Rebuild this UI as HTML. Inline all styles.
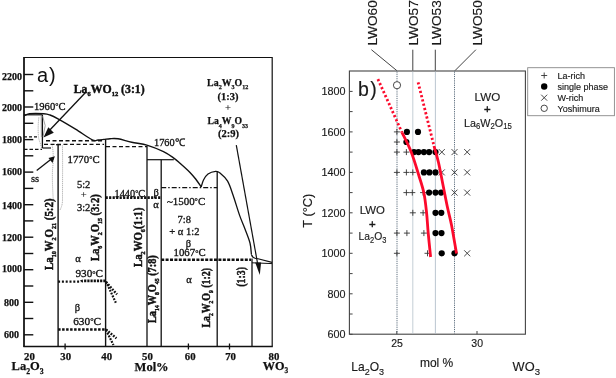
<!DOCTYPE html>
<html><head><meta charset="utf-8"><title>Phase diagram</title>
<style>html,body{margin:0;padding:0;background:#fff;}svg{display:block;}</style>
</head><body>
<svg width="616" height="378" viewBox="0 0 616 378">
<rect width="616" height="378" fill="#fff"/>
<g stroke="#111" fill="none" stroke-linecap="butt">
<path d="M24,346.5V57.5H272.2V346.5" stroke-width="1.2"/>
<line x1="23.4" y1="346.5" x2="272.8" y2="346.5" stroke-width="1.4"/>
<line x1="24" y1="57" x2="24" y2="347" stroke-width="1.4"/>
<line x1="24" y1="334.8" x2="33.3" y2="334.8" stroke-width="1.4"/>
<line x1="24" y1="318.5" x2="33.3" y2="318.5" stroke-width="1.4"/>
<line x1="24" y1="302.3" x2="33.3" y2="302.3" stroke-width="1.4"/>
<line x1="24" y1="286.0" x2="33.3" y2="286.0" stroke-width="1.4"/>
<line x1="24" y1="269.7" x2="33.3" y2="269.7" stroke-width="1.4"/>
<line x1="24" y1="253.5" x2="33.3" y2="253.5" stroke-width="1.4"/>
<line x1="24" y1="237.2" x2="33.3" y2="237.2" stroke-width="1.4"/>
<line x1="24" y1="220.9" x2="33.3" y2="220.9" stroke-width="1.4"/>
<line x1="24" y1="204.7" x2="33.3" y2="204.7" stroke-width="1.4"/>
<line x1="24" y1="188.4" x2="33.3" y2="188.4" stroke-width="1.4"/>
<line x1="24" y1="172.1" x2="33.3" y2="172.1" stroke-width="1.4"/>
<line x1="24" y1="155.8" x2="33.3" y2="155.8" stroke-width="1.4"/>
<line x1="24" y1="139.6" x2="33.3" y2="139.6" stroke-width="1.4"/>
<line x1="24" y1="123.3" x2="33.3" y2="123.3" stroke-width="1.4"/>
<line x1="24" y1="107.0" x2="33.3" y2="107.0" stroke-width="1.4"/>
<line x1="24" y1="90.8" x2="33.3" y2="90.8" stroke-width="1.4"/>
<line x1="24" y1="74.5" x2="33.3" y2="74.5" stroke-width="1.4"/>
<line x1="65.1" y1="343.5" x2="65.1" y2="349.5" stroke-width="1.3"/>
<line x1="188.4" y1="343.5" x2="188.4" y2="349.5" stroke-width="1.3"/>
<line x1="229.5" y1="343.5" x2="229.5" y2="349.5" stroke-width="1.3"/>
<line x1="42.4" y1="114.8" x2="42.4" y2="148" stroke-width="1.3"/>
<line x1="58.1" y1="144.7" x2="58.1" y2="346.5" stroke-width="1.4"/>
<line x1="105.6" y1="139" x2="105.6" y2="346.5" stroke-width="1.4"/>
<line x1="147" y1="146" x2="147" y2="346.5" stroke-width="1.3"/>
<line x1="161.2" y1="159.7" x2="161.2" y2="346.5" stroke-width="1.3"/>
<line x1="217.2" y1="171" x2="217.2" y2="346.5" stroke-width="1.3"/>
<line x1="252" y1="258.5" x2="252" y2="346.5" stroke-width="1.3"/>
<line x1="24" y1="114.8" x2="42.4" y2="114.8" stroke-width="1.2"/>
<line x1="42.4" y1="148" x2="51" y2="148" stroke-width="1.2"/>
<line x1="147" y1="159.7" x2="173.8" y2="159.7" stroke-width="1.2"/>
<line x1="56" y1="144.7" x2="61" y2="144.7" stroke-width="1.2"/>
<line x1="24" y1="136.8" x2="39" y2="136.8" stroke-width="1.2" stroke-dasharray="3 2"/>
<line x1="46" y1="140.8" x2="104" y2="140.8" stroke-width="1.6" stroke-dasharray="4 2.5"/>
<line x1="44" y1="144.3" x2="104" y2="144.3" stroke-width="1.3" stroke-dasharray="4 2.5"/>
<line x1="24" y1="149.4" x2="42" y2="149.4" stroke-width="1.3" stroke-dasharray="3.5 2"/>
<line x1="106" y1="146.7" x2="147" y2="146.7" stroke-width="1.3" stroke-dasharray="4 2.5"/>
<line x1="105.6" y1="197.6" x2="161.5" y2="197.6" stroke-width="2.6" stroke-dasharray="2.2 1.3"/>
<line x1="161.2" y1="259.7" x2="251" y2="259.7" stroke-width="2.5" stroke-dasharray="3 1.4"/>
<line x1="58.1" y1="281.6" x2="81" y2="281.6" stroke-width="2.2" stroke-dasharray="2 1.8"/>
<path d="M81,281.6 Q82,280.6 84,280.8 L106,280.8" stroke-width="2.8" stroke-dasharray="2.2 1"/>
<line x1="58.1" y1="329.5" x2="105.6" y2="329.5" stroke-width="2.6" stroke-dasharray="2.5 1.5"/>
<line x1="106" y1="281.5" x2="116.4" y2="304" stroke-width="2.2" stroke-dasharray="1.8 1.3"/>
<line x1="106" y1="282" x2="117" y2="294.4" stroke-width="2.4" stroke-dasharray="1.8 1.3"/>
<line x1="106" y1="329.5" x2="116.4" y2="338.3" stroke-width="2.4" stroke-dasharray="1.8 1.3"/>
<line x1="106" y1="330" x2="113.5" y2="345.1" stroke-width="2.2" stroke-dasharray="1.8 1.3"/>
<line x1="161.2" y1="187.6" x2="217.2" y2="187.6" stroke-width="1.2" stroke-dasharray="5 2 1.5 2"/>
<path d="M24,116 C24.92,115.62 26.20,114.08 29.50,113.70 C32.80,113.32 40.38,113.48 43.80,113.70 C47.22,113.92 47.63,114.15 50.00,115.00 C52.37,115.85 53.75,116.45 58.00,118.80 C62.25,121.15 69.80,125.60 75.50,129.10 C81.20,132.60 88.45,137.98 92.20,139.80 C95.95,141.62 96.03,140.07 98.00,140.00 C99.97,139.93 102.00,139.62 104.00,139.40 C106.00,139.18 107.67,138.80 110.00,138.70 C112.33,138.60 114.38,138.22 118.00,138.80 C121.62,139.38 126.77,141.10 131.70,142.20 C136.63,143.30 142.30,143.82 147.60,145.40 C152.90,146.98 159.13,149.58 163.50,151.70 C167.87,153.82 171.05,156.18 173.80,158.10 C176.55,160.02 177.30,160.82 180.00,163.20 C182.70,165.58 187.33,169.68 190.00,172.40 C192.67,175.12 194.13,177.07 196.00,179.50 C197.87,181.93 200.33,185.75 201.20,187.00" stroke-width="1.4"/>
<path d="M201.2,187 C201.58,185.83 202.37,182.17 203.50,180.00 C204.63,177.83 205.98,175.43 208.00,174.00 C210.02,172.57 213.60,171.57 215.60,171.40 C217.60,171.23 218.00,171.37 220.00,173.00 C222.00,174.63 225.43,177.53 227.60,181.20 C229.77,184.87 230.98,189.27 233.00,195.00 C235.02,200.73 237.70,209.93 239.70,215.60 C241.70,221.27 243.28,224.43 245.00,229.00 C246.72,233.57 248.93,238.75 250.00,243.00 C251.07,247.25 251.17,252.58 251.40,254.50" stroke-width="1.3"/>
<path d="M251.4,254.5 Q252.5,258.5 258,258.8 L272,262.4" stroke-width="1.1"/>
<path d="M252,262.8 L272,263.6" stroke-width="1.0"/>
<path d="M38.8,117.5 C38,125 38,132 38.5,137 C39,141 41,144 41.5,148" stroke="#8a8a8a" stroke-width="0.8" stroke-dasharray="1 1"/>
<path d="M41.2,116 L41.4,137" stroke="#8a8a8a" stroke-width="0.8"/>
<path d="M42.6,116 L45.2,125.6 L43,137" stroke="#8a8a8a" stroke-width="0.8"/>
<path d="M52.2,145.5 C53.5,152 53.5,160 52.5,170 C52,180 53,195 53.5,205" stroke="#8a8a8a" stroke-width="0.8" stroke-dasharray="1 1"/>
<path d="M62.4,145.5 C62.8,160 62.5,180 62.5,200 C62.5,205 61,208 60,210" stroke="#8a8a8a" stroke-width="0.8" stroke-dasharray="1 1"/>
<line x1="86" y1="92" x2="47" y2="133" stroke-width="1.3"/>
<line x1="36.7" y1="170.5" x2="52" y2="158.5" stroke-width="1.3"/>
<line x1="236.3" y1="145.2" x2="257.5" y2="263" stroke-width="1.2"/>
</g>
<g fill="#111" stroke="none">
<polygon points="43.5,137.5 48.3,127.2 53.8,132.8"/>
<polygon points="54.9,156.2 48.5,158 52.5,163"/>
<polygon points="259.8,275 255.2,262.5 261.1,262.5"/>
</g>
<g font-family="'Liberation Serif', 'Times New Roman', serif" font-weight="bold" fill="#111" stroke="#111" stroke-width="0.25">
<text x="22" y="79.6" font-size="10" text-anchor="end">2200</text>
<text x="22" y="111.4" font-size="10" text-anchor="end">2000</text>
<text x="22" y="143.2" font-size="10" text-anchor="end">1800</text>
<text x="22" y="175.2" font-size="10" text-anchor="end">1600</text>
<text x="22" y="208.9" font-size="10" text-anchor="end">1400</text>
<text x="22" y="241.3" font-size="10" text-anchor="end">1200</text>
<text x="22" y="271.9" font-size="10" text-anchor="end">1000</text>
<text x="19" y="305.6" font-size="10" text-anchor="end">800</text>
<text x="19" y="337.7" font-size="10" text-anchor="end">600</text>
<text x="29.5" y="359.5" font-size="10.8" text-anchor="middle">20</text>
<text x="65.7" y="359.5" font-size="10.8" text-anchor="middle">30</text>
<text x="106.7" y="359.5" font-size="10.8" text-anchor="middle">40</text>
<text x="147.5" y="359.5" font-size="10.8" text-anchor="middle">50</text>
<text x="190.2" y="359.5" font-size="10.8" text-anchor="middle">60</text>
<text x="230.6" y="359.5" font-size="10.8" text-anchor="middle">70</text>
<text x="274" y="359.5" font-size="10.8" text-anchor="middle">80</text>
<text x="11.6" y="370.3" font-size="12.5"><tspan>La</tspan><tspan dy="3.75" font-size="7.75">2</tspan><tspan dy="-3.75">O</tspan><tspan dy="3.75" font-size="7.75">3</tspan></text>
<text x="134.6" y="371" font-size="12.5">Mol%</text>
<text x="262.7" y="370" font-size="12.5" textLength="25.5" lengthAdjust="spacingAndGlyphs"><tspan>WO</tspan><tspan dy="2.60" font-size="7.50">3</tspan></text>
<text x="73.7" y="92.8" font-size="12.8" stroke-width="0.45" textLength="71" lengthAdjust="spacingAndGlyphs"><tspan>La</tspan><tspan dy="2.80" font-size="7.04">6</tspan><tspan dy="-2.80">WO</tspan><tspan dy="2.80" font-size="7.04">12</tspan><tspan dy="-2.80"> (3:1)</tspan></text>
<text font-weight="normal" stroke-width="0.3" x="34" y="109.8" font-size="10.5" textLength="31.5" lengthAdjust="spacingAndGlyphs">1960<tspan font-size="75%" dy="-0.5">°</tspan><tspan dy="0.5">C</tspan></text>
<text x="207.1" y="86.3" font-size="10.5" textLength="41.3" lengthAdjust="spacingAndGlyphs"><tspan>La</tspan><tspan dy="3.15" font-size="6.51">2</tspan><tspan dy="-3.15">W</tspan><tspan dy="3.15" font-size="6.51">3</tspan><tspan dy="-3.15">O</tspan><tspan dy="3.15" font-size="6.51">12</tspan></text>
<text x="228" y="99.5" font-size="10.5" text-anchor="middle">(1:3)</text>
<text font-weight="normal" stroke-width="0.15" x="228" y="111" font-size="10.5" text-anchor="middle">+</text>
<text x="207.4" y="124.4" font-size="10.5" textLength="40.7" lengthAdjust="spacingAndGlyphs"><tspan>La</tspan><tspan dy="3.15" font-size="6.51">4</tspan><tspan dy="-3.15">W</tspan><tspan dy="3.15" font-size="6.51">9</tspan><tspan dy="-3.15">O</tspan><tspan dy="3.15" font-size="6.51">33</tspan></text>
<text x="228.5" y="136.8" font-size="10.5" text-anchor="middle">(2:9)</text>
<text font-weight="normal" stroke-width="0.3" x="67.6" y="162.6" font-size="10.5" textLength="32" lengthAdjust="spacingAndGlyphs">1770<tspan font-size="75%" dy="-0.5">°</tspan><tspan dy="0.5">C</tspan></text>
<text font-weight="normal" stroke-width="0.3" x="154" y="146.3" font-size="10.5" textLength="30.5" lengthAdjust="spacingAndGlyphs">1760℃</text>
<text font-weight="normal" stroke-width="0.3" x="31" y="181.8" font-size="10.5">ss</text>
<text font-weight="normal" stroke-width="0.3" x="83.6" y="187.5" font-size="10.5" text-anchor="middle">5:2</text>
<text font-weight="normal" stroke-width="0.15" x="83.6" y="198.3" font-size="10.5" text-anchor="middle">+</text>
<text font-weight="normal" stroke-width="0.3" x="83.6" y="211" font-size="10.5" text-anchor="middle">3:2</text>
<text font-weight="normal" stroke-width="0.3" x="114.6" y="196.8" font-size="10.5" textLength="30.5" lengthAdjust="spacingAndGlyphs">1440<tspan font-size="75%" dy="-0.5">°</tspan><tspan dy="0.5">C</tspan></text>
<text font-weight="normal" stroke-width="0.3" x="156.1" y="196" font-size="10.5" text-anchor="middle">β</text>
<text font-weight="normal" stroke-width="0.3" x="156.1" y="208" font-size="10.5" text-anchor="middle">α</text>
<text font-weight="normal" stroke-width="0.3" x="166.9" y="204.6" font-size="10.5" textLength="38.3" lengthAdjust="spacingAndGlyphs">~1500<tspan font-size="75%" dy="-0.5">°</tspan><tspan dy="0.5">C</tspan></text>
<text font-weight="normal" stroke-width="0.3" x="184.2" y="222.5" font-size="10.5" text-anchor="middle">7:8</text>
<text font-weight="normal" stroke-width="0.3" x="169.3" y="235.3" font-size="10.5">+ α 1:2</text>
<text font-weight="normal" stroke-width="0.3" x="188.3" y="246.7" font-size="10.5" text-anchor="middle">β</text>
<text font-weight="normal" stroke-width="0.3" x="173.6" y="256.4" font-size="10.5" textLength="32" lengthAdjust="spacingAndGlyphs">1067<tspan font-size="75%" dy="-0.5">°</tspan><tspan dy="0.5">C</tspan></text>
<text font-weight="normal" stroke-width="0.3" x="77.9" y="261.5" font-size="10.5" text-anchor="middle">α</text>
<text font-weight="normal" stroke-width="0.3" x="75.5" y="277.3" font-size="10.5" textLength="27.6" lengthAdjust="spacingAndGlyphs">930<tspan font-size="75%" dy="-0.5">°</tspan><tspan dy="0.5">C</tspan></text>
<text font-weight="normal" stroke-width="0.3" x="77.5" y="311" font-size="10.5" text-anchor="middle">β</text>
<text font-weight="normal" stroke-width="0.3" x="73.2" y="324.7" font-size="10.5" textLength="28" lengthAdjust="spacingAndGlyphs">630<tspan font-size="75%" dy="-0.5">°</tspan><tspan dy="0.5">C</tspan></text>
<text font-weight="normal" stroke-width="0.3" x="188.9" y="283" font-size="10.5" text-anchor="middle">α</text>
<text transform="translate(53.4,270) rotate(-90)" font-size="12" stroke-width="0.45" textLength="71.5" lengthAdjust="spacingAndGlyphs"><tspan>La</tspan><tspan dy="2.30" font-size="6.72">10</tspan><tspan dy="-2.30">W</tspan><tspan dy="2.30" font-size="6.72">2</tspan><tspan dy="-2.30">O</tspan><tspan dy="2.30" font-size="6.72">21</tspan><tspan dy="-2.30"> (5:2)</tspan></text>
<text transform="translate(99.2,261) rotate(-90)" font-size="12" stroke-width="0.45" textLength="66.7" lengthAdjust="spacingAndGlyphs"><tspan>La</tspan><tspan dy="2.30" font-size="6.72">6</tspan><tspan dy="-2.30">W</tspan><tspan dy="2.30" font-size="6.72">2</tspan><tspan dy="-2.30">O</tspan><tspan dy="2.30" font-size="6.72">15</tspan><tspan dy="-2.30"> (3:2)</tspan></text>
<text transform="translate(142.2,267) rotate(-90)" font-size="12" stroke-width="0.45" textLength="59.5" lengthAdjust="spacingAndGlyphs"><tspan>La</tspan><tspan dy="2.30" font-size="6.72">2</tspan><tspan dy="-2.30">WO</tspan><tspan dy="2.30" font-size="6.72">6</tspan><tspan dy="-2.30">(1:1)</tspan></text>
<text transform="translate(156.2,323) rotate(-90)" font-size="12" stroke-width="0.45" textLength="67.7" lengthAdjust="spacingAndGlyphs"><tspan>La</tspan><tspan dy="2.30" font-size="6.72">14</tspan><tspan dy="-2.30">W</tspan><tspan dy="2.30" font-size="6.72">8</tspan><tspan dy="-2.30">O</tspan><tspan dy="2.30" font-size="6.72">45</tspan><tspan dy="-2.30"> (7:8)</tspan></text>
<text transform="translate(210.3,327.6) rotate(-90)" font-size="12" stroke-width="0.45" textLength="59.6" lengthAdjust="spacingAndGlyphs"><tspan>La</tspan><tspan dy="2.30" font-size="6.72">2</tspan><tspan dy="-2.30">W</tspan><tspan dy="2.30" font-size="6.72">2</tspan><tspan dy="-2.30">O</tspan><tspan dy="2.30" font-size="6.72">9</tspan><tspan dy="-2.30"> (1:2)</tspan></text>
<text transform="translate(245.3,286.8) rotate(-90)" font-size="12" stroke-width="0.45" textLength="19.8" lengthAdjust="spacingAndGlyphs"><tspan>(1:3)</tspan></text>
</g>
<text x="36.9" y="82.3" font-family="'Liberation Sans', Arial, sans-serif" font-size="20" fill="#111" letter-spacing="0.9">a)</text>
<g stroke="#444" fill="none">
<rect x="349.4" y="71" width="176" height="263.2" stroke-width="1.1"/>
<line x1="349.4" y1="334.3" x2="352.6" y2="334.3" stroke-width="1"/>
<line x1="349.4" y1="314.0" x2="352.6" y2="314.0" stroke-width="1"/>
<line x1="349.4" y1="293.8" x2="352.6" y2="293.8" stroke-width="1"/>
<line x1="349.4" y1="273.6" x2="352.6" y2="273.6" stroke-width="1"/>
<line x1="349.4" y1="253.3" x2="352.6" y2="253.3" stroke-width="1"/>
<line x1="349.4" y1="233.1" x2="352.6" y2="233.1" stroke-width="1"/>
<line x1="349.4" y1="212.8" x2="352.6" y2="212.8" stroke-width="1"/>
<line x1="349.4" y1="192.6" x2="352.6" y2="192.6" stroke-width="1"/>
<line x1="349.4" y1="172.4" x2="352.6" y2="172.4" stroke-width="1"/>
<line x1="349.4" y1="152.1" x2="352.6" y2="152.1" stroke-width="1"/>
<line x1="349.4" y1="131.9" x2="352.6" y2="131.9" stroke-width="1"/>
<line x1="349.4" y1="111.6" x2="352.6" y2="111.6" stroke-width="1"/>
<line x1="349.4" y1="91.4" x2="352.6" y2="91.4" stroke-width="1"/>
<line x1="396.8" y1="334.2" x2="396.8" y2="331" stroke-width="1"/>
<line x1="477.0" y1="334.2" x2="477.0" y2="331" stroke-width="1"/>
<line x1="371.4" y1="49.7" x2="396.8" y2="70.6" stroke-width="1"/>
<line x1="412.8" y1="49.7" x2="412.8" y2="70.6" stroke-width="1"/>
<line x1="435.3" y1="49.7" x2="435.3" y2="70.6" stroke-width="1"/>
<line x1="475.9" y1="49.7" x2="455" y2="70.6" stroke-width="1"/>
</g>
<g fill="none" stroke-width="0.8">
<line x1="397" y1="71.5" x2="397" y2="333.7" stroke="#5d6e7e" stroke-width="1" stroke-dasharray="1.2 1"/>
<line x1="412.8" y1="71.5" x2="412.8" y2="333.7" stroke="#b5c2cc"/>
<line x1="435.4" y1="71.5" x2="435.4" y2="333.7" stroke="#a9b8c4"/>
<line x1="454.5" y1="71.5" x2="454.5" y2="333.7" stroke="#5d6e7e" stroke-width="1" stroke-dasharray="1.2 1"/>
</g>
<g stroke="#333" stroke-width="0.9">
<path d="M393.9,131.9h6M396.9,128.9v6"/>
<path d="M393.9,142.0h6M396.9,139.0v6"/>
<path d="M393.9,152.1h6M396.9,149.1v6"/>
<path d="M403.4,152.1h6M406.4,149.1v6"/>
<path d="M393.9,172.4h6M396.9,169.4v6"/>
<path d="M403.4,172.4h6M406.4,169.4v6"/>
<path d="M409.8,172.4h6M412.8,169.4v6"/>
<path d="M403.4,192.6h6M406.4,189.6v6"/>
<path d="M409.3,192.6h6M412.3,189.6v6"/>
<path d="M420.1,192.6h6M423.1,189.6v6"/>
<path d="M409.8,212.8h6M412.8,209.8v6"/>
<path d="M420.1,212.8h6M423.1,209.8v6"/>
<path d="M393.9,233.1h6M396.9,230.1v6"/>
<path d="M403.9,233.1h6M406.9,230.1v6"/>
<path d="M420.9,233.1h6M423.9,230.1v6"/>
<path d="M393.9,253.3h6M396.9,250.3v6"/>
<path d="M424.5,253.3h6M427.5,250.3v6"/>
<path d="M438.8,149.1l6,6M438.8,155.1l6,-6"/>
<path d="M451.5,149.1l6,6M451.5,155.1l6,-6"/>
<path d="M464.2,149.1l6,6M464.2,155.1l6,-6"/>
<path d="M438.8,169.4l6,6M438.8,175.4l6,-6"/>
<path d="M451.5,169.4l6,6M451.5,175.4l6,-6"/>
<path d="M464.2,169.4l6,6M464.2,175.4l6,-6"/>
<path d="M451.5,189.6l6,6M451.5,195.6l6,-6"/>
<path d="M464.2,189.6l6,6M464.2,195.6l6,-6"/>
<path d="M464.2,250.3l6,6M464.2,256.3l6,-6"/>
</g>
<g fill="#000">
<circle cx="406.9" cy="131.9" r="3.1"/>
<circle cx="418" cy="131.9" r="3.1"/>
<circle cx="406.4" cy="142.0" r="3.1"/>
<circle cx="414" cy="152.1" r="3.1"/>
<circle cx="418.5" cy="152.1" r="3.1"/>
<circle cx="423.9" cy="152.1" r="3.1"/>
<circle cx="429.1" cy="152.1" r="3.1"/>
<circle cx="435.5" cy="152.1" r="3.1"/>
<circle cx="423.9" cy="172.4" r="3.1"/>
<circle cx="429.4" cy="172.4" r="3.1"/>
<circle cx="435.5" cy="172.4" r="3.1"/>
<circle cx="429.1" cy="192.6" r="3.1"/>
<circle cx="435.5" cy="192.6" r="3.1"/>
<circle cx="441.1" cy="192.6" r="3.1"/>
<circle cx="435.5" cy="212.8" r="3.1"/>
<circle cx="441.3" cy="212.8" r="3.1"/>
<circle cx="435.5" cy="233.1" r="3.1"/>
<circle cx="441.5" cy="233.1" r="3.1"/>
<circle cx="441.7" cy="253.3" r="3.1"/>
<circle cx="454.5" cy="253.3" r="3.1"/>
</g>
<circle cx="397" cy="85.2" r="3.6" fill="#fff" stroke="#333" stroke-width="0.9"/>
<g fill="none" stroke="#fc0a2c" stroke-width="2.8">
<line x1="377.9" y1="79.1" x2="402" y2="132.5" stroke-dasharray="2.2 2.2"/>
<line x1="418.1" y1="82.3" x2="434" y2="146" stroke-dasharray="2.2 2.2"/>
<path d="M402,132.5 C403.53,135.75 408.42,144.92 411.20,152.00 C413.98,159.08 416.58,168.17 418.70,175.00 C420.82,181.83 422.58,186.67 423.90,193.00 C425.22,199.33 425.88,206.33 426.60,213.00 C427.32,219.67 427.53,225.67 428.20,233.00 C428.87,240.33 430.20,253.00 430.60,257.00"/>
<path d="M434,146 C434.75,148.75 437.00,156.00 438.50,162.50 C440.00,169.00 441.50,177.50 443.00,185.00 C444.50,192.50 446.08,200.83 447.50,207.50 C448.92,214.17 450.00,217.33 451.50,225.00 C453.00,232.67 455.67,248.75 456.50,253.50"/>
</g>
<g font-family="'Liberation Sans', Arial, sans-serif" fill="#1a1a1a" stroke="#1a1a1a" stroke-width="0.15">
<text x="345.5" y="338.1" font-size="10.8" text-anchor="end">600</text>
<text x="345.5" y="297.6" font-size="10.8" text-anchor="end">800</text>
<text x="345.5" y="257.1" font-size="10.8" text-anchor="end">1000</text>
<text x="345.5" y="216.6" font-size="10.8" text-anchor="end">1200</text>
<text x="345.5" y="176.2" font-size="10.8" text-anchor="end">1400</text>
<text x="345.5" y="135.7" font-size="10.8" text-anchor="end">1600</text>
<text x="345.5" y="95.2" font-size="10.8" text-anchor="end">1800</text>
<text x="397.1" y="347" font-size="10.5" text-anchor="middle">25</text>
<text x="477.2" y="347" font-size="10.5" text-anchor="middle">30</text>
<text x="351.3" y="370.8" font-size="12.8" textLength="32.8" lengthAdjust="spacingAndGlyphs"><tspan>La</tspan><tspan dy="3.84" font-size="9.60">2</tspan><tspan dy="-3.84">O</tspan><tspan dy="3.84" font-size="9.60">3</tspan></text>
<text x="419.9" y="366.8" font-size="12">mol %</text>
<text x="512.6" y="371.1" font-size="12.8"><tspan>WO</tspan><tspan dy="3.84" font-size="9.60">3</tspan></text>
<text transform="translate(312.4,227.7) rotate(-90)" font-size="12.8">T (°C)</text>
<text x="358" y="96" font-size="19.5" letter-spacing="1.4">b)</text>
<text transform="translate(376.8,45.6) rotate(-90)" font-size="13.7">LWO60</text>
<text transform="translate(417.8,45.6) rotate(-90)" font-size="13.7">LWO57</text>
<text transform="translate(441.1,45.6) rotate(-90)" font-size="13.7">LWO53</text>
<text transform="translate(482,45.6) rotate(-90)" font-size="13.7">LWO50</text>
<text x="372.4" y="214.4" font-size="11.4" text-anchor="middle">LWO</text>
<text x="372.3" y="227.5" font-size="11.4" text-anchor="middle" stroke-width="0.5">+</text>
<text x="358.6" y="240.4" font-size="11.4" textLength="27.8" lengthAdjust="spacingAndGlyphs"><tspan>La</tspan><tspan dy="2.20" font-size="8.21">2</tspan><tspan dy="-2.20">O</tspan><tspan dy="2.20" font-size="8.21">3</tspan></text>
<text x="487.4" y="100.5" font-size="11.6" text-anchor="middle">LWO</text>
<text x="487.4" y="113.3" font-size="11.4" text-anchor="middle" stroke-width="0.5">+</text>
<text x="464" y="127" font-size="11.4" textLength="47.8" lengthAdjust="spacingAndGlyphs"><tspan>La</tspan><tspan dy="2.20" font-size="8.21">6</tspan><tspan dy="-2.20">W</tspan><tspan dy="2.20" font-size="8.21">2</tspan><tspan dy="-2.20">O</tspan><tspan dy="2.20" font-size="8.21">15</tspan></text>
</g>
<rect x="527.7" y="67.7" width="86.7" height="48" fill="#fff" stroke="#888" stroke-width="0.9"/>
<path d="M541.2,75.5h6M544.2,72.5v6" stroke="#333" stroke-width="0.9"/>
<circle cx="544.2" cy="86.5" r="3.2" fill="#000"/>
<path d="M541.2,94.7l6,6M541.2,100.7l6,-6" stroke="#333" stroke-width="0.9"/>
<circle cx="544.2" cy="108.3" r="3.2" fill="#fff" stroke="#333" stroke-width="0.9"/>
<g font-family="'Liberation Sans', Arial, sans-serif" fill="#1a1a1a" font-size="9" stroke="#1a1a1a" stroke-width="0.15">
<text x="557.5" y="78.8">La-rich</text>
<text x="557.5" y="89.8">single phase</text>
<text x="557.5" y="101.0">W-rich</text>
<text x="557.5" y="111.6">Yoshimura</text>
</g>
</svg>
</body></html>
